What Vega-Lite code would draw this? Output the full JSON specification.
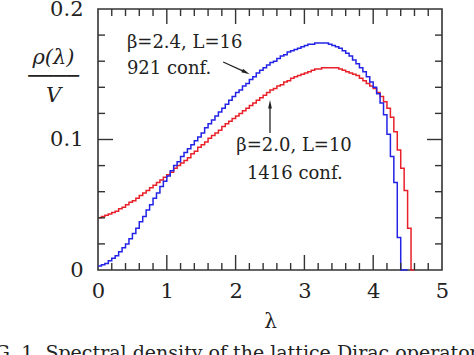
{
  "$schema": "https://vega.github.io/schema/vega-lite/v6.json",
  "width": 344,
  "height": 261,
  "autosize": "none",
  "padding": {"left": 98, "top": 9, "right": 32, "bottom": 85},
  "background": "white",
  "config": {
    "view": {"stroke": "#333", "strokeWidth": 1.6},
    "axis": {"domain": false, "ticks": false, "grid": false, "labelFlush": false, "labelOverlap": false, "labelColor": "#222", "titleColor": "#222", "labelFont": "DejaVu Serif", "titleFont": "DejaVu Serif", "titleFontWeight": "normal"}
  },
  "title": {"text": "FIG. 1. Spectral density of the lattice Dirac operator", "orient": "bottom", "anchor": "start", "frame": "group", "dx": -124, "offset": 13, "font": "DejaVu Serif", "fontSize": 19, "fontWeight": "normal", "color": "#222"},
  "datasets": {
    "xmajor": [{"v": 1}, {"v": 2}, {"v": 3}, {"v": 4}],
    "xminor": [{"v": 0.2}, {"v": 0.4}, {"v": 0.6}, {"v": 0.8}, {"v": 1.2}, {"v": 1.4}, {"v": 1.6}, {"v": 1.8}, {"v": 2.2}, {"v": 2.4}, {"v": 2.6}, {"v": 2.8}, {"v": 3.2}, {"v": 3.4}, {"v": 3.6}, {"v": 3.8}, {"v": 4.2}, {"v": 4.4}, {"v": 4.6}, {"v": 4.8}],
    "ymajor": [{"v": 0.1}],
    "yminor": [{"v": 0.02}, {"v": 0.04}, {"v": 0.06}, {"v": 0.08}, {"v": 0.12}, {"v": 0.14}, {"v": 0.16}, {"v": 0.18}],
    "curves": [
      {"series": "red", "lambda": 0, "rho": 0.040}, {"series": "red", "lambda": 0.05, "rho": 0.041}, {"series": "red", "lambda": 0.1, "rho": 0.042}, {"series": "red", "lambda": 0.15, "rho": 0.043}, {"series": "red", "lambda": 0.2, "rho": 0.044}, {"series": "red", "lambda": 0.25, "rho": 0.045}, {"series": "red", "lambda": 0.3, "rho": 0.047}, {"series": "red", "lambda": 0.35, "rho": 0.048}, {"series": "red", "lambda": 0.4, "rho": 0.050}, {"series": "red", "lambda": 0.45, "rho": 0.052}, {"series": "red", "lambda": 0.5, "rho": 0.053}, {"series": "red", "lambda": 0.55, "rho": 0.055}, {"series": "red", "lambda": 0.6, "rho": 0.057}, {"series": "red", "lambda": 0.65, "rho": 0.059}, {"series": "red", "lambda": 0.7, "rho": 0.061}, {"series": "red", "lambda": 0.75, "rho": 0.063}, {"series": "red", "lambda": 0.8, "rho": 0.065}, {"series": "red", "lambda": 0.85, "rho": 0.067}, {"series": "red", "lambda": 0.9, "rho": 0.069}, {"series": "red", "lambda": 0.95, "rho": 0.071}, {"series": "red", "lambda": 1.0, "rho": 0.073}, {"series": "red", "lambda": 1.05, "rho": 0.075}, {"series": "red", "lambda": 1.1, "rho": 0.078}, {"series": "red", "lambda": 1.15, "rho": 0.080}, {"series": "red", "lambda": 1.2, "rho": 0.082}, {"series": "red", "lambda": 1.25, "rho": 0.084}, {"series": "red", "lambda": 1.3, "rho": 0.086}, {"series": "red", "lambda": 1.35, "rho": 0.089}, {"series": "red", "lambda": 1.4, "rho": 0.091}, {"series": "red", "lambda": 1.45, "rho": 0.094}, {"series": "red", "lambda": 1.5, "rho": 0.096}, {"series": "red", "lambda": 1.55, "rho": 0.098}, {"series": "red", "lambda": 1.6, "rho": 0.101}, {"series": "red", "lambda": 1.65, "rho": 0.103}, {"series": "red", "lambda": 1.7, "rho": 0.105}, {"series": "red", "lambda": 1.75, "rho": 0.107}, {"series": "red", "lambda": 1.8, "rho": 0.110}, {"series": "red", "lambda": 1.85, "rho": 0.112}, {"series": "red", "lambda": 1.9, "rho": 0.114}, {"series": "red", "lambda": 1.95, "rho": 0.116}, {"series": "red", "lambda": 2.0, "rho": 0.118}, {"series": "red", "lambda": 2.05, "rho": 0.120}, {"series": "red", "lambda": 2.1, "rho": 0.122}, {"series": "red", "lambda": 2.15, "rho": 0.124}, {"series": "red", "lambda": 2.2, "rho": 0.126}, {"series": "red", "lambda": 2.25, "rho": 0.128}, {"series": "red", "lambda": 2.3, "rho": 0.130}, {"series": "red", "lambda": 2.35, "rho": 0.132}, {"series": "red", "lambda": 2.4, "rho": 0.134}, {"series": "red", "lambda": 2.45, "rho": 0.136}, {"series": "red", "lambda": 2.5, "rho": 0.138}, {"series": "red", "lambda": 2.55, "rho": 0.139}, {"series": "red", "lambda": 2.6, "rho": 0.141}, {"series": "red", "lambda": 2.65, "rho": 0.142}, {"series": "red", "lambda": 2.7, "rho": 0.144}, {"series": "red", "lambda": 2.75, "rho": 0.145}, {"series": "red", "lambda": 2.8, "rho": 0.147}, {"series": "red", "lambda": 2.85, "rho": 0.148}, {"series": "red", "lambda": 2.9, "rho": 0.149}, {"series": "red", "lambda": 2.95, "rho": 0.150}, {"series": "red", "lambda": 3.0, "rho": 0.151}, {"series": "red", "lambda": 3.05, "rho": 0.152}, {"series": "red", "lambda": 3.1, "rho": 0.153}, {"series": "red", "lambda": 3.15, "rho": 0.154}, {"series": "red", "lambda": 3.2, "rho": 0.154}, {"series": "red", "lambda": 3.25, "rho": 0.155}, {"series": "red", "lambda": 3.3, "rho": 0.155}, {"series": "red", "lambda": 3.35, "rho": 0.155}, {"series": "red", "lambda": 3.4, "rho": 0.155}, {"series": "red", "lambda": 3.45, "rho": 0.155}, {"series": "red", "lambda": 3.5, "rho": 0.154}, {"series": "red", "lambda": 3.55, "rho": 0.153}, {"series": "red", "lambda": 3.6, "rho": 0.152}, {"series": "red", "lambda": 3.65, "rho": 0.151}, {"series": "red", "lambda": 3.7, "rho": 0.150}, {"series": "red", "lambda": 3.75, "rho": 0.149}, {"series": "red", "lambda": 3.8, "rho": 0.147}, {"series": "red", "lambda": 3.85, "rho": 0.145}, {"series": "red", "lambda": 3.9, "rho": 0.143}, {"series": "red", "lambda": 3.95, "rho": 0.141}, {"series": "red", "lambda": 4.0, "rho": 0.139}, {"series": "red", "lambda": 4.05, "rho": 0.136}, {"series": "red", "lambda": 4.1, "rho": 0.133}, {"series": "red", "lambda": 4.15, "rho": 0.129}, {"series": "red", "lambda": 4.2, "rho": 0.124}, {"series": "red", "lambda": 4.25, "rho": 0.117}, {"series": "red", "lambda": 4.3, "rho": 0.106}, {"series": "red", "lambda": 4.35, "rho": 0.092}, {"series": "red", "lambda": 4.4, "rho": 0.078}, {"series": "red", "lambda": 4.45, "rho": 0.061}, {"series": "red", "lambda": 4.5, "rho": 0.032}, {"series": "red", "lambda": 4.55, "rho": 0}, {"series": "red", "lambda": 4.6, "rho": 0},
      {"series": "blue", "lambda": 0, "rho": 0.003}, {"series": "blue", "lambda": 0.05, "rho": 0.004}, {"series": "blue", "lambda": 0.1, "rho": 0.005}, {"series": "blue", "lambda": 0.15, "rho": 0.007}, {"series": "blue", "lambda": 0.2, "rho": 0.009}, {"series": "blue", "lambda": 0.25, "rho": 0.011}, {"series": "blue", "lambda": 0.3, "rho": 0.014}, {"series": "blue", "lambda": 0.35, "rho": 0.017}, {"series": "blue", "lambda": 0.4, "rho": 0.020}, {"series": "blue", "lambda": 0.45, "rho": 0.024}, {"series": "blue", "lambda": 0.5, "rho": 0.028}, {"series": "blue", "lambda": 0.55, "rho": 0.032}, {"series": "blue", "lambda": 0.6, "rho": 0.037}, {"series": "blue", "lambda": 0.65, "rho": 0.041}, {"series": "blue", "lambda": 0.7, "rho": 0.046}, {"series": "blue", "lambda": 0.75, "rho": 0.050}, {"series": "blue", "lambda": 0.8, "rho": 0.055}, {"series": "blue", "lambda": 0.85, "rho": 0.059}, {"series": "blue", "lambda": 0.9, "rho": 0.064}, {"series": "blue", "lambda": 0.95, "rho": 0.068}, {"series": "blue", "lambda": 1.0, "rho": 0.072}, {"series": "blue", "lambda": 1.05, "rho": 0.076}, {"series": "blue", "lambda": 1.1, "rho": 0.080}, {"series": "blue", "lambda": 1.15, "rho": 0.083}, {"series": "blue", "lambda": 1.2, "rho": 0.087}, {"series": "blue", "lambda": 1.25, "rho": 0.090}, {"series": "blue", "lambda": 1.3, "rho": 0.093}, {"series": "blue", "lambda": 1.35, "rho": 0.096}, {"series": "blue", "lambda": 1.4, "rho": 0.099}, {"series": "blue", "lambda": 1.45, "rho": 0.102}, {"series": "blue", "lambda": 1.5, "rho": 0.105}, {"series": "blue", "lambda": 1.55, "rho": 0.109}, {"series": "blue", "lambda": 1.6, "rho": 0.112}, {"series": "blue", "lambda": 1.65, "rho": 0.115}, {"series": "blue", "lambda": 1.7, "rho": 0.118}, {"series": "blue", "lambda": 1.75, "rho": 0.121}, {"series": "blue", "lambda": 1.8, "rho": 0.124}, {"series": "blue", "lambda": 1.85, "rho": 0.127}, {"series": "blue", "lambda": 1.9, "rho": 0.130}, {"series": "blue", "lambda": 1.95, "rho": 0.133}, {"series": "blue", "lambda": 2.0, "rho": 0.136}, {"series": "blue", "lambda": 2.05, "rho": 0.138}, {"series": "blue", "lambda": 2.1, "rho": 0.141}, {"series": "blue", "lambda": 2.15, "rho": 0.143}, {"series": "blue", "lambda": 2.2, "rho": 0.146}, {"series": "blue", "lambda": 2.25, "rho": 0.148}, {"series": "blue", "lambda": 2.3, "rho": 0.151}, {"series": "blue", "lambda": 2.35, "rho": 0.153}, {"series": "blue", "lambda": 2.4, "rho": 0.155}, {"series": "blue", "lambda": 2.45, "rho": 0.157}, {"series": "blue", "lambda": 2.5, "rho": 0.159}, {"series": "blue", "lambda": 2.55, "rho": 0.160}, {"series": "blue", "lambda": 2.6, "rho": 0.162}, {"series": "blue", "lambda": 2.65, "rho": 0.164}, {"series": "blue", "lambda": 2.7, "rho": 0.165}, {"series": "blue", "lambda": 2.75, "rho": 0.167}, {"series": "blue", "lambda": 2.8, "rho": 0.168}, {"series": "blue", "lambda": 2.85, "rho": 0.169}, {"series": "blue", "lambda": 2.9, "rho": 0.170}, {"series": "blue", "lambda": 2.95, "rho": 0.171}, {"series": "blue", "lambda": 3.0, "rho": 0.172}, {"series": "blue", "lambda": 3.05, "rho": 0.173}, {"series": "blue", "lambda": 3.1, "rho": 0.173}, {"series": "blue", "lambda": 3.15, "rho": 0.174}, {"series": "blue", "lambda": 3.2, "rho": 0.174}, {"series": "blue", "lambda": 3.25, "rho": 0.174}, {"series": "blue", "lambda": 3.3, "rho": 0.174}, {"series": "blue", "lambda": 3.35, "rho": 0.173}, {"series": "blue", "lambda": 3.4, "rho": 0.172}, {"series": "blue", "lambda": 3.45, "rho": 0.171}, {"series": "blue", "lambda": 3.5, "rho": 0.170}, {"series": "blue", "lambda": 3.55, "rho": 0.168}, {"series": "blue", "lambda": 3.6, "rho": 0.166}, {"series": "blue", "lambda": 3.65, "rho": 0.164}, {"series": "blue", "lambda": 3.7, "rho": 0.161}, {"series": "blue", "lambda": 3.75, "rho": 0.158}, {"series": "blue", "lambda": 3.8, "rho": 0.155}, {"series": "blue", "lambda": 3.85, "rho": 0.152}, {"series": "blue", "lambda": 3.9, "rho": 0.148}, {"series": "blue", "lambda": 3.95, "rho": 0.144}, {"series": "blue", "lambda": 4.0, "rho": 0.140}, {"series": "blue", "lambda": 4.05, "rho": 0.135}, {"series": "blue", "lambda": 4.1, "rho": 0.128}, {"series": "blue", "lambda": 4.15, "rho": 0.119}, {"series": "blue", "lambda": 4.2, "rho": 0.104}, {"series": "blue", "lambda": 4.25, "rho": 0.087}, {"series": "blue", "lambda": 4.3, "rho": 0.067}, {"series": "blue", "lambda": 4.35, "rho": 0.025}, {"series": "blue", "lambda": 4.4, "rho": 0}, {"series": "blue", "lambda": 4.5, "rho": 0}
    ],
    "notes": [
      {"group": "blue", "lambda": 0.42, "rho": 0.174, "label": "β=2.4, L=16"},
      {"group": "blue", "lambda": 0.42, "rho": 0.154, "label": "921 conf."},
      {"group": "red", "lambda": 2.85, "rho": 0.095, "label": "β=2.0, L=10"},
      {"group": "red", "lambda": 2.86, "rho": 0.0735, "label": "1416 conf."}
    ],
    "arrows": [
      {"group": "blue", "lambda": 1.82, "rho": 0.1594, "lambda2": 2.15, "rho2": 0.1515},
      {"group": "red", "lambda": 2.5, "rho": 0.105, "lambda2": 2.5, "rho2": 0.127}
    ]
  },
  "layer": [
    {
      "data": {"name": "curves"},
      "mark": {"type": "line", "interpolate": "step-after", "strokeWidth": 1.5},
      "encoding": {
        "x": {"field": "lambda", "type": "quantitative", "scale": {"domain": [0, 5], "nice": false},
          "axis": {"orient": "bottom", "values": [0, 1, 2, 3, 4, 5], "format": "d",
            "labelFontSize": 21, "labelPadding": 10, "title": "λ", "titleFontSize": 20, "titlePadding": 10}},
        "y": {"field": "rho", "type": "quantitative", "scale": {"domain": [0, 0.2], "nice": false},
          "axis": {"orient": "left", "values": [0, 0.1, 0.2],
            "labelExpr": "datum.value == 0 ? '0' : format(datum.value, '.1f')",
            "labelFontSize": 21, "labelPadding": 15,
            "title": ["ρ(λ)", "────", "V"], "titleFontSize": 21, "titleFontStyle": "italic", "titleAngle": 0, "titleAlign": "center", "titleBaseline": "middle", "titleLineHeight": 19, "titleX": -45, "titleY": 48}},
        "color": {"field": "series", "type": "nominal", "scale": {"domain": ["red", "blue"], "range": ["#e8202a", "#2323e6"]}, "legend": null}
      }
    },
    {
      "data": {"name": "xmajor"},
      "mark": {"type": "rule", "color": "#333", "strokeWidth": 1.4, "y2Offset": -15},
      "encoding": {"x": {"field": "v", "type": "quantitative"}, "y": {"datum": 0, "type": "quantitative"}, "y2": {"datum": 0}}
    },
    {
      "data": {"name": "xmajor"},
      "mark": {"type": "rule", "color": "#333", "strokeWidth": 1.4, "y2Offset": 15},
      "encoding": {"x": {"field": "v", "type": "quantitative"}, "y": {"datum": 0.2, "type": "quantitative"}, "y2": {"datum": 0.2}}
    },
    {
      "data": {"name": "xminor"},
      "mark": {"type": "rule", "color": "#333", "strokeWidth": 1.4, "y2Offset": -7},
      "encoding": {"x": {"field": "v", "type": "quantitative"}, "y": {"datum": 0, "type": "quantitative"}, "y2": {"datum": 0}}
    },
    {
      "data": {"name": "xminor"},
      "mark": {"type": "rule", "color": "#333", "strokeWidth": 1.4, "y2Offset": 7},
      "encoding": {"x": {"field": "v", "type": "quantitative"}, "y": {"datum": 0.2, "type": "quantitative"}, "y2": {"datum": 0.2}}
    },
    {
      "data": {"name": "ymajor"},
      "mark": {"type": "rule", "color": "#333", "strokeWidth": 1.4, "x2Offset": 15},
      "encoding": {"y": {"field": "v", "type": "quantitative"}, "x": {"datum": 0, "type": "quantitative"}, "x2": {"datum": 0}}
    },
    {
      "data": {"name": "ymajor"},
      "mark": {"type": "rule", "color": "#333", "strokeWidth": 1.4, "x2Offset": -15},
      "encoding": {"y": {"field": "v", "type": "quantitative"}, "x": {"datum": 5, "type": "quantitative"}, "x2": {"datum": 5}}
    },
    {
      "data": {"name": "yminor"},
      "mark": {"type": "rule", "color": "#333", "strokeWidth": 1.4, "x2Offset": 7},
      "encoding": {"y": {"field": "v", "type": "quantitative"}, "x": {"datum": 0, "type": "quantitative"}, "x2": {"datum": 0}}
    },
    {
      "data": {"name": "yminor"},
      "mark": {"type": "rule", "color": "#333", "strokeWidth": 1.4, "x2Offset": -7},
      "encoding": {"y": {"field": "v", "type": "quantitative"}, "x": {"datum": 5, "type": "quantitative"}, "x2": {"datum": 5}}
    },
    {
      "data": {"name": "arrows"},
      "mark": {"type": "rule", "color": "#222", "strokeWidth": 1.3},
      "encoding": {
        "x": {"field": "lambda", "type": "quantitative"},
        "y": {"field": "rho", "type": "quantitative"},
        "x2": {"field": "lambda2"},
        "y2": {"field": "rho2"}
      }
    },
    {
      "data": {"name": "arrows"},
      "transform": [{"filter": "datum.group == 'blue'"}],
      "mark": {"type": "point", "shape": "M0,-1L0.45,1L-0.45,1Z", "filled": true, "color": "#222", "size": 70, "angle": 116, "opacity": 1},
      "encoding": {
        "x": {"field": "lambda2", "type": "quantitative"},
        "y": {"field": "rho2", "type": "quantitative"}
      }
    },
    {
      "data": {"name": "arrows"},
      "transform": [{"filter": "datum.group == 'red'"}],
      "mark": {"type": "point", "shape": "M0,-1L0.45,1L-0.45,1Z", "filled": true, "color": "#222", "size": 70, "angle": 0, "opacity": 1},
      "encoding": {
        "x": {"field": "lambda2", "type": "quantitative"},
        "y": {"field": "rho2", "type": "quantitative"}
      }
    },
    {
      "data": {"name": "notes"},
      "transform": [{"filter": "datum.group == 'blue'"}],
      "mark": {"type": "text", "align": "left", "baseline": "middle", "font": "DejaVu Serif", "fontSize": 18, "color": "#222"},
      "encoding": {
        "x": {"field": "lambda", "type": "quantitative"},
        "y": {"field": "rho", "type": "quantitative"},
        "text": {"field": "label"}
      }
    },
    {
      "data": {"name": "notes"},
      "transform": [{"filter": "datum.group == 'red'"}],
      "mark": {"type": "text", "align": "center", "baseline": "middle", "font": "DejaVu Serif", "fontSize": 18, "color": "#222"},
      "encoding": {
        "x": {"field": "lambda", "type": "quantitative"},
        "y": {"field": "rho", "type": "quantitative"},
        "text": {"field": "label"}
      }
    }
  ]
}
